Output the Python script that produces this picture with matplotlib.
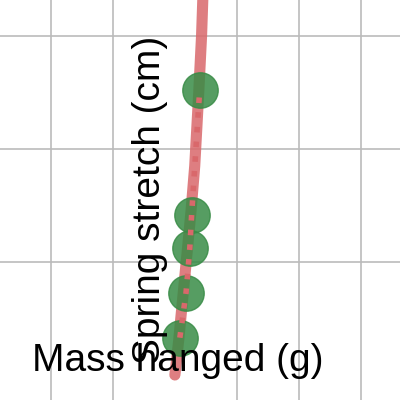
import numpy as np
import matplotlib.pyplot as plt

# data (grid units)
mass = [0.08, 0.18, 0.24, 0.27, 0.40]
stretch = [0.33, 0.73, 1.12, 1.42, 2.52]
fit_x = [0.0, 0.06, 0.13, 0.2, 0.26, 0.32, 0.38, 0.43, 0.48]
fit_y = [0.0, 0.3, 0.7, 1.1, 1.45, 1.85, 2.45, 3.0, 3.8]

fig = plt.figure(figsize=(4, 4), dpi=100)
ax = fig.add_axes([0, 0, 1, 1])
for gx in [-2, -1, 1, 2, 3]:
    ax.axvline(gx, color="#bbbbbb", lw=1.2, zorder=0)
for gy in [1, 2, 3]:
    ax.axhline(gy, color="#bbbbbb", lw=1.2, zorder=0)
ax.axis("off")

ax.annotate("", xy=(0, 3.74), xytext=(0, 0),
            arrowprops=dict(arrowstyle="-|>,head_width=0.4,head_length=1.2", color="black", lw=2.5))
ax.plot(fit_x, fit_y, color="#d9686b", lw=8, alpha=0.85, solid_capstyle="round", zorder=3)
ax.scatter(mass, stretch, s=650, color="#388c46", alpha=0.85, zorder=4)
ax.plot(mass, stretch, ":", color="#d9686b", lw=4, zorder=5)

ax.text(0.05, 0.12, "Mass hanged (g)", fontsize=28, ha="center", va="center",
        zorder=6, family="Liberation Sans")
ax.text(-0.4, 1.55, "Spring stretch (cm)", fontsize=28, ha="center", va="center",
        rotation=90, zorder=6, family="Liberation Sans")

ax.set_xlim(-2.82, 3.63)
ax.set_ylim(-25 / 113, 375 / 113)
fig.savefig("out.png", dpi=100)
